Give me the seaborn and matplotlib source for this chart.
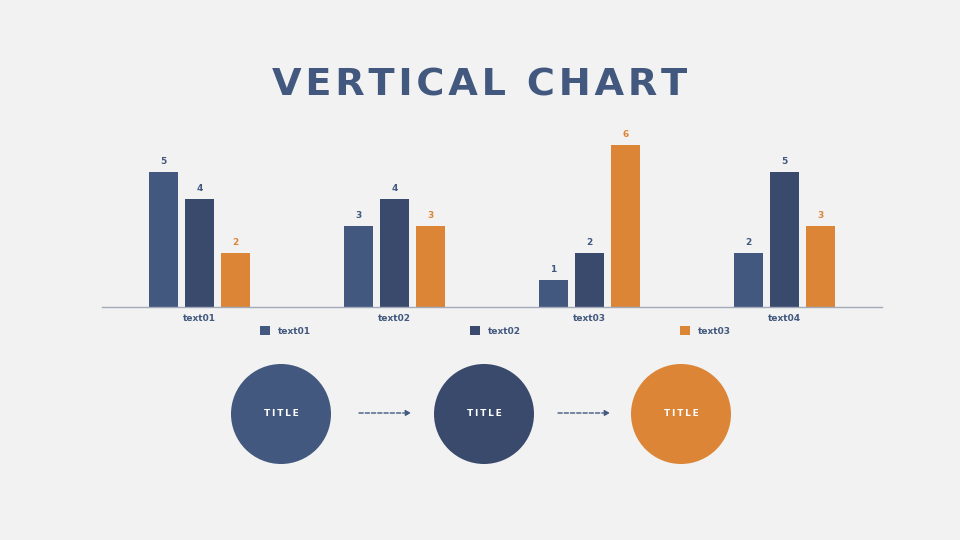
import pandas as pd
import matplotlib
matplotlib.use("Agg")
import matplotlib.pyplot as plt
from matplotlib.patches import Circle, FancyArrowPatch
import seaborn as sns

# 数据
categories = ["text01", "text02", "text03", "text04"]
series_names = ["text01", "text02", "text03"]
series1 = [5, 3, 1, 2]
series2 = [4, 4, 2, 5]
series3 = [2, 3, 6, 3]
step_labels = ["TITLE", "TITLE", "TITLE"]

BG = "#F2F2F2"
BLUE = "#42587E"
NAVY = "#3A4A6C"
ORANGE = "#DC8537"
palette = [BLUE, NAVY, ORANGE]

df = pd.DataFrame({
    "category": categories * 3,
    "series": [series_names[0]] * 4 + [series_names[1]] * 4 + [series_names[2]] * 4,
    "value": series1 + series2 + series3,
})

sns.set_theme(style="white")
plt.rcParams["font.family"] = ["DejaVu Sans"]

fig = plt.figure(figsize=(9.6, 5.4), dpi=100, facecolor=BG)
ax = fig.add_axes([102 / 960, 1 - 307 / 540, 780 / 960, 162 / 540], facecolor=BG)

sns.barplot(data=df, x="category", y="value", hue="series", palette=palette,
            width=0.554, gap=0.22, saturation=1, linewidth=0, ax=ax, legend=True)

ax.set_xlim(-0.5, 3.5)
ax.set_ylim(0, 6)
ax.set_xlabel("")
ax.set_ylabel("")
ax.set_yticks([])
for side in ["top", "right", "left"]:
    ax.spines[side].set_visible(False)
ax.spines["bottom"].set_color("#A3AABA")
ax.spines["bottom"].set_linewidth(1.0)
ax.tick_params(axis="x", length=0, pad=5)
for lab in ax.get_xticklabels():
    lab.set_fontsize(6.5)
    lab.set_fontweight("bold")
    lab.set_color(BLUE)

# 数值标签
label_colors = [BLUE, BLUE, ORANGE]
for cont, col in zip(ax.containers, label_colors):
    ax.bar_label(cont, padding=4, fontsize=6.5, fontweight="bold", color=col, clip_on=False)

# 图例
handles, labels = ax.get_legend_handles_labels()
ax.get_legend().remove()
leg = fig.legend(handles, labels, loc="center", bbox_to_anchor=(0.516, 1 - 331 / 540),
                 ncol=3, frameon=False, fontsize=6.5, handlelength=1.1, handleheight=1.1,
                 handletextpad=0.9, columnspacing=17.6)
for t in leg.get_texts():
    t.set_color(BLUE)
    t.set_fontweight("bold")

# 标题
fig.text(0.5, 1 - 86 / 540, "\u200a".join("VERTICAL CHART"), ha="center", va="center",
         fontsize=27.5, fontweight="heavy", color=BLUE)

# 流程圆圈
ov = fig.add_axes([0, 0, 1, 1], facecolor="none")
ov.set_xlim(0, 960)
ov.set_ylim(540, 0)
ov.axis("off")
centers = [281, 484, 681]
for cx, col, txt in zip(centers, palette, step_labels):
    ov.add_patch(Circle((cx, 414), 50, color=col, lw=0))
    ov.text(cx, 414, "\u2009".join(txt), ha="center", va="center", color="white",
            fontsize=6.5, fontweight="bold")
for x0, x1 in [(359, 411), (558, 610)]:
    ov.add_patch(FancyArrowPatch((x0, 413), (x1, 413), arrowstyle="-|>,head_length=3,head_width=1.6",
                                 linestyle=(0, (3, 1.5)), color=BLUE, lw=1.0, mutation_scale=1,
                                 shrinkA=0, shrinkB=0))

fig.savefig("out.png", dpi=100, facecolor=BG)
